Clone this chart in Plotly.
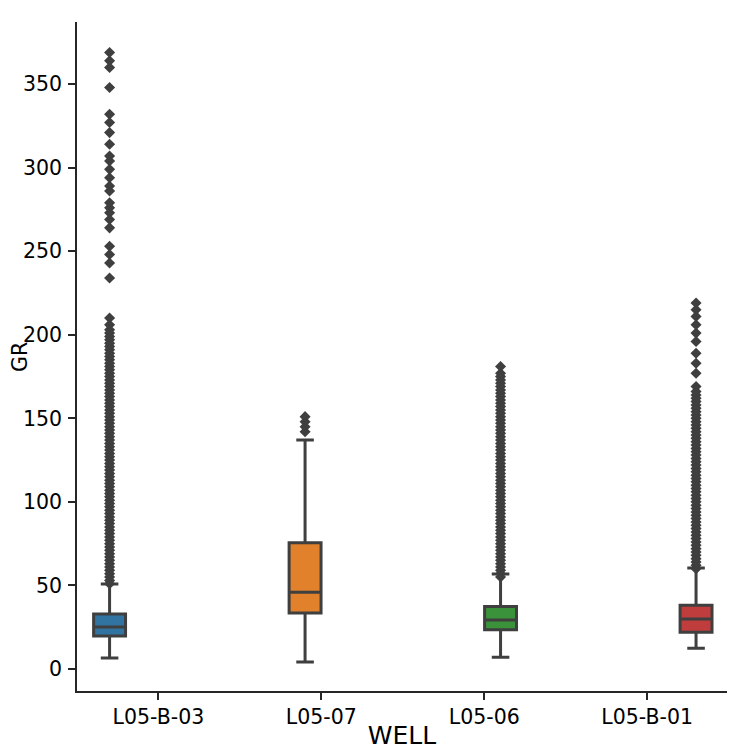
import plotly.graph_objects as go

# wells (categories) in plot order
wells = ["L05-B-03", "L05-07", "L05-06", "L05-B-01"]
colors = ["#3274a1", "#e1812c", "#3a923a", "#c03d3e"]

# box statistics (GR)
q1 = [19.7, 33.5, 23.5, 22.0]
median = [25.1, 45.9, 29.3, 29.9]
q3 = [32.9, 75.6, 37.3, 38.1]
lower_whisker = [6.6, 4.1, 7.0, 12.4]
upper_whisker = [50.8, 137.0, 56.8, 60.4]

# outliers per well
out_b03 = [51, 53, 55, 57, 59, 61, 63, 65, 67, 69, 71, 73, 75, 77, 79, 81, 83,
           85, 87, 89, 91, 93, 95, 97, 99, 101, 103, 105, 107, 109, 111, 113,
           115, 117, 119, 121, 123, 125, 127, 129, 131, 133, 135, 137, 139, 141,
           143, 145, 147, 149, 151, 153, 155, 157, 159, 161, 163, 165, 167, 169,
           171, 173, 175, 177, 179, 181, 183, 185, 187, 189, 191, 193, 195, 197,
           199, 201, 203, 206, 210,
           234, 243, 248, 253, 264, 269, 273, 276, 279, 286, 289, 294, 299, 304,
           307, 314, 321, 327, 332, 348, 360, 364, 369]
out_07 = [142, 145, 148, 151]
out_06 = [55, 57, 59, 61, 63, 65, 67, 69, 71, 73, 75, 77, 79, 81, 83, 85, 87,
          89, 91, 93, 95, 97, 99, 101, 103, 105, 107, 109, 111, 113, 115, 117,
          119, 121, 123, 125, 127, 129, 131, 133, 135, 137, 139, 141, 143, 145,
          147, 149, 151, 153, 155, 157, 159, 161, 163, 165, 167, 169, 171, 173,
          175, 177, 181]
out_b01 = [60, 62, 64, 66, 68, 70, 72, 74, 76, 78, 80, 82, 84, 86, 88, 90, 92,
           94, 96, 98, 100, 102, 104, 106, 108, 110, 112, 114, 116, 118, 120,
           122, 124, 126, 128, 130, 132, 134, 136, 138, 140, 142, 144, 146, 148,
           150, 152, 154, 156, 158, 160, 162, 164, 166, 169, 177, 183, 189, 196,
           201, 206, 211, 215, 219]
outliers = [out_b03, out_07, out_06, out_b01]

line_col = "#3f3f3f"
n = len(wells)
fig = go.Figure()
for i, w in enumerate(wells):
    # hue dodge like seaborn: each well sits in its own slot of its category
    pos = i + (i - (n - 1) / 2) * 0.8 / n
    fig.add_trace(go.Box(
        x=[pos], q1=[q1[i]], median=[median[i]], q3=[q3[i]],
        lowerfence=[lower_whisker[i]], upperfence=[upper_whisker[i]],
        width=0.8 / n * 0.98, whiskerwidth=0.55,
        fillcolor=colors[i], line=dict(color=line_col, width=3),
        name=w, showlegend=False, boxpoints=False,
    ))
    fig.add_trace(go.Scatter(
        x=[pos] * len(outliers[i]), y=outliers[i], mode="markers",
        marker=dict(symbol="diamond", size=8.5, color=line_col,
                    line=dict(width=0)),
        showlegend=False, hoverinfo="y",
    ))

# page body adds an 8px offset, so the figure is 742px and margins shifted
axis_font = dict(family="DejaVu Sans", size=20.5, color="black")
fig.update_layout(
    width=742, height=742,
    margin=dict(l=69, r=23, t=14, b=59),
    plot_bgcolor="white", paper_bgcolor="white",
    font=axis_font,
    xaxis=dict(
        range=[-0.5, 3.49], tickvals=list(range(n)), ticktext=wells,
        showgrid=False, zeroline=False, showline=True, linecolor="#262626",
        linewidth=1.6, ticks="outside", ticklen=7, tickwidth=1.6,
        tickcolor="#262626", ticklabelstandoff=0, automargin=False,
        title=dict(text="WELL", standoff=9),
    ),
    yaxis=dict(
        range=[-13.2, 387.2], tickvals=[0, 50, 100, 150, 200, 250, 300, 350],
        showgrid=False, zeroline=False, showline=True, linecolor="#262626",
        linewidth=1.6, ticks="outside", ticklen=7, tickwidth=1.6,
        tickcolor="#262626", ticklabelstandoff=2, automargin=False,
    ),
    annotations=[dict(
        text="GR", textangle=-90, showarrow=False,
        xref="paper", yref="paper", x=-0.0885, y=0.5,
        xanchor="center", yanchor="middle", font=axis_font,
    )],
)

fig.write_html("out.html")
